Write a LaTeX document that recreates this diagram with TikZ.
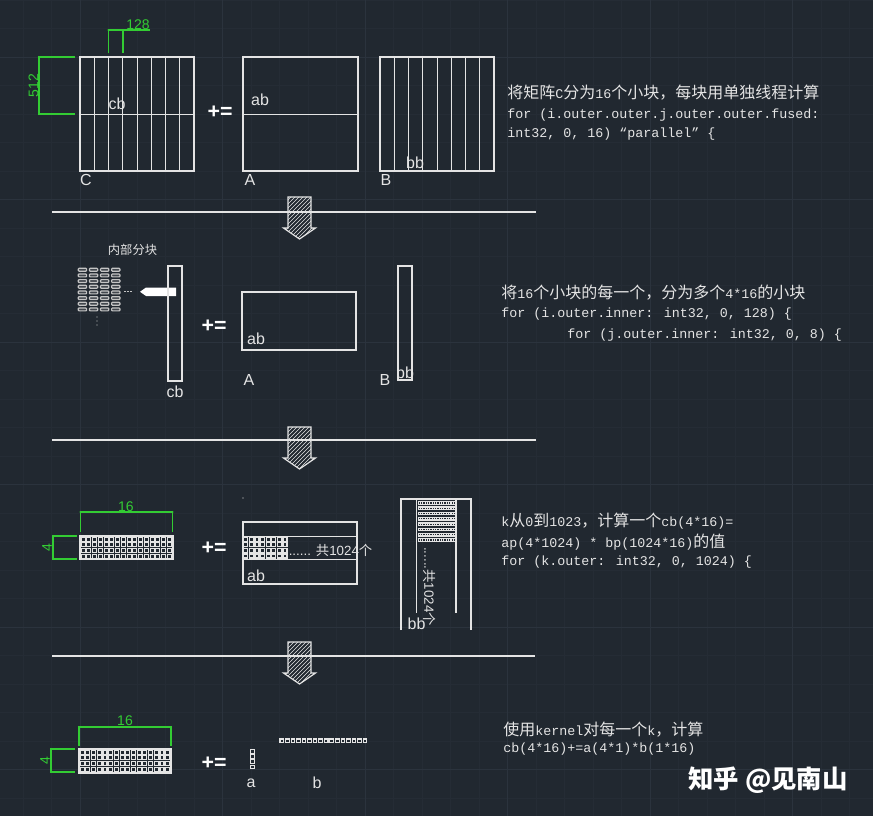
\documentclass[tikz,border=0pt]{standalone}
\usepackage{fontspec}
\setmainfont{Liberation Sans}
\newfontfamily\cjk{Noto Sans CJK SC}
\newfontfamily\codefont{Liberation Mono}
\usepackage{xcolor}
\definecolor{bgDark}{HTML}{212830}
\definecolor{gridMajor}{HTML}{2B333D}
\definecolor{gridMinor}{HTML}{252C35}
\definecolor{lineWhite}{HTML}{E4E4E4}
\definecolor{dimGreen}{HTML}{33CC33}
\definecolor{miniGray}{HTML}{C4C4C4}
\usepackage{tikz}
\usetikzlibrary{
    patterns,
    calc
}
% chinese text inside the code notes
\newcommand{\zh}[1]{{\cjk\fontsize{12}{14}\selectfont#1}}
\newcommand{\zhs}[1]{{\cjk#1}}
\tikzset{
    % matrix outlines
    mat/.style={draw=lineWhite, line width=0.9pt},
    % inner split lines of a matrix
    split/.style={draw=lineWhite, line width=0.7pt},
    % one element of a 4*16 block
    cell/.style={draw=lineWhite, fill=bgDark, line width=0.8pt},
    % small blocks of the inner split
    mini/.style={draw=miniGray, fill=bgDark!80!miniGray, line width=0.9pt, rounded corners=0.6pt},
    % separator between the steps
    sep line/.style={draw=lineWhite, line width=0.8pt},
    % hatched arrow between the steps
    hatch arrow/.style={draw=lineWhite, line width=0.9pt,
        pattern=north east lines, pattern color=lineWhite},
    % green dimension lines
    dim/.style={draw=dimGreen, line width=0.8pt},
    dim label/.style={font=\fontsize{10.5}{12}\selectfont, text=dimGreen, inner sep=0pt},
    % labels of the matrices
    mat label/.style={font=\fontsize{12}{14}\selectfont, text=lineWhite, inner sep=0pt},
    % the += sign
    plus eq/.style={font=\fontsize{16}{18}\selectfont\bfseries, text=white, inner sep=0pt},
    % code notes on the right
    note/.style={anchor=west, inner sep=0pt, text=lineWhite,
        font=\codefont\fontsize{10}{12}\selectfont},
}

\begin{document}
\begin{tikzpicture}[x=0.75pt, y=-0.75pt]
    \fill[bgDark] (0,0) rectangle (873,816);
    \useasboundingbox (0,0) rectangle (873,816);

    % background grid
    \foreach \gx in {23,51.5,...,873} \draw[gridMinor, line width=0.5pt] (\gx,0) -- (\gx,816);
    \foreach \gy in {0,28.5,...,816} \draw[gridMinor, line width=0.5pt] (0,\gy) -- (873,\gy);
    \foreach \gx in {80,222.5,365,507.5,650,792.5} \draw[gridMajor, line width=0.6pt] (\gx,0) -- (\gx,816);
    \foreach \gy in {57,199.5,342,484.5,627,769.5} \draw[gridMajor, line width=0.6pt] (0,\gy) -- (873,\gy);

    % ---- step 1: C split into 16 blocks
    \draw[mat] (80,57) rectangle (194,171);
    \draw[split] (80,114) -- (194,114);
    \foreach \k in {1,...,7} \draw[split] ({80+\k*14.25},57) -- ++(0,114);
    \draw[mat] (243,57) rectangle (358,171);
    \draw[split] (243,114) -- (358,114);
    \draw[mat] (380,57) rectangle (494,171);
    \foreach \k in {1,...,7} \draw[split] ({380+\k*14.25},57) -- ++(0,114);

    \draw[dim] (108.5,53) -- (108.5,30) -- (150,30);
    \draw[dim] (123,53) -- (123,30);
    \fill[dimGreen] (108.5,30) circle (1.2) (123,30) circle (1.2);
    \node[dim label] (dim_128) at (138,25) {128};
    \draw[dim] (75,57) -- (39,57) -- (39,114) -- (75,114);
    \fill[dimGreen] (39,57) circle (1.2) (39,114) circle (1.2);
    \node[dim label, rotate=90] (dim_512) at (33.5,85.5) {512};

    \node[mat label] (cb_1) at (117,104) {cb};
    \node[mat label] (name_c) at (86,180) {C};
    \node[plus eq] (pe_1) at (220,112) {+=};
    \node[mat label] (ab_1) at (260,100) {ab};
    \node[mat label] (name_a1) at (250,180) {A};
    \node[mat label] (bb_1) at (415,163) {bb};
    \node[mat label] (name_b1) at (386,180) {B};

    \node[note] (note_1a) at (507,93) {\zh{将矩阵}C\zh{分为}16\zh{个小块，每块用单独线程计算}};
    \node[note] (note_1b) at (507,115) {for (i.outer.outer.j.outer.outer.fused:};
    \node[note] (note_1c) at (507,134) {int32, 0, 16) “parallel” \{};

    % separators with hatched arrows
    \draw[sep line] (52,212) -- (536,212);
    \draw[sep line] (52,440) -- (536,440);
    \draw[sep line] (52,656) -- (535,656);
    \foreach \t in {197,427,642}
        \draw[hatch arrow] (288,\t) -- (311,\t) -- (311,\t+31) -- (315.5,\t+31)
            -- (299.5,\t+42) -- (283.5,\t+31) -- (288,\t+31) -- cycle;

    % ---- step 2: each block split into 4*16 blocks
    \node[text=lineWhite, inner sep=0pt, font=\cjk\fontsize{9.2}{11}\selectfont] (inner_title) at (132.5,250) {内部分块};
    \foreach \i in {0,...,3}
        \foreach \j in {0,...,7}
            \draw[mini] ({78.3+\i*11.1},{268.3+\j*5.67}) rectangle ++(8.3,2.9);
    \draw[miniGray, line width=0.6pt, dash pattern=on 1.2pt off 1.2pt] (124,291.5) -- (132,291.5);
    \foreach \d in {317,321,325} \fill[miniGray] (97,\d) circle (0.6);
    \fill[white] (176,287.5) -- (146,287.5) -- (140,291.8) -- (146,296) -- (176,296) -- cycle;

    \draw[mat] (168,266) rectangle (182,381);
    \node[mat label] (cb_2) at (175,392) {cb};
    \node[plus eq] (pe_2) at (214,326) {+=};
    \draw[mat] (242,292) rectangle (356,350);
    \node[mat label] (ab_2) at (256,339) {ab};
    \node[mat label] (name_a2) at (249,380) {A};
    \draw[mat] (398,266) rectangle (412,380);
    \node[mat label] (bb_2) at (405,373) {bb};
    \node[mat label] (name_b2) at (385,380) {B};

    \node[note] (note_2a) at (501,293) {\zh{将}16\zh{个小块的每一个，分为多个}4*16\zh{的小块}};
    \node[note] (note_2b) at (501,314) {for (i.outer.inner: int32, 0, 128) \{};
    \node[note] (note_2c) at (567,335) {for (j.outer.inner: int32, 0, 8) \{};

    % ---- step 3: loop over k
    \draw[mat] (80,536) rectangle (173,559);
    \foreach \i in {0,...,15}
        \foreach \j in {0,...,3}
            \draw[cell] ({81.2+\i*5.75},{537.2+\j*5.75}) rectangle ++(4,4);
    \draw[dim] (80.5,532) -- (80.5,512) -- (172.5,512) -- (172.5,532);
    \fill[dimGreen] (80.5,512) circle (1.2) (172.5,512) circle (1.2);
    \node[dim label] (dim_16a) at (126,507) {16};
    \draw[dim] (77,536) -- (53,536) -- (53,559) -- (77,559);
    \fill[dimGreen] (53,536) circle (1.2) (53,559) circle (1.2);
    \node[dim label, rotate=90] (dim_4a) at (47,547.5) {4};

    \node[plus eq] (pe_3) at (214,548) {+=};
    \fill[lineWhite] (243,498) circle (0.6);
    \draw[mat] (243,522) rectangle (357,584);
    \draw[split] (243,536) -- (357,536);
    \draw[split] (243,559) -- (357,559);
    \foreach \i in {0,...,7}
        \foreach \j in {0,...,3}
            \draw[cell] ({243.8+\i*5.6},{537.2+\j*5.6}) rectangle ++(4,4);
    \node[anchor=west, inner sep=0pt, text=lineWhite, font=\fontsize{10}{12}\selectfont] (count_a) at (288.5,550) {...... \zhs{共}1024\zhs{个}};
    \node[mat label] (ab_3) at (256,576) {ab};

    \draw[mat] (401,630) -- (401,499) -- (471,499) -- (471,630);
    \draw[mat] (416.7,499) -- (416.7,613);
    \draw[mat] (456,499) -- (456,613);
    \foreach \j in {0,...,7} {
        \fill[lineWhite] (417.5,{501+\j*5.3}) rectangle ++(38,3.8);
        \foreach \i in {0,...,15}
            \fill[bgDark] ({418.6+\i*2.35},{502.3+\j*5.3}) rectangle ++(1.2,1.2);
    }
    \node[anchor=west, inner sep=0pt, rotate=-90, text=lineWhite, font=\fontsize{10}{12}\selectfont] (count_b) at (429.5,547) {......\zhs{共}1024\zhs{个}};
    \node[mat label] (bb_3) at (416.5,624) {bb};

    \node[note] (note_3a) at (501,521) {k\zh{从}0\zh{到}1023\zh{，计算一个}cb(4*16)=};
    \node[note] (note_3b) at (501,542) {ap(4*1024) * bp(1024*16)\zh{的值}};
    \node[note] (note_3c) at (501,562) {for (k.outer: int32, 0, 1024) \{};

    % ---- step 4: kernel for one k
    \draw[mat] (79,749) rectangle (171,773);
    \foreach \i in {0,...,15}
        \foreach \j in {0,...,3}
            \draw[cell] ({80.2+\i*5.7},{750.2+\j*5.7}) rectangle ++(4,4);
    \draw[dim] (79,746) -- (79,727) -- (171,727) -- (171,746);
    \fill[dimGreen] (79,727) circle (1.2) (171,727) circle (1.2);
    \node[dim label] (dim_16b) at (125,721) {16};
    \draw[dim] (75,749) -- (51,749) -- (51,772) -- (75,772);
    \fill[dimGreen] (51,749) circle (1.2) (51,772) circle (1.2);
    \node[dim label, rotate=90] (dim_4b) at (45,761) {4};

    \node[plus eq] (pe_4) at (214,763) {+=};
    \foreach \j in {0,...,3}
        \draw[cell] (250.6,{749.5+\j*5.2}) rectangle ++(3.6,3.6);
    \foreach \i in {0,...,15}
        \draw[cell] ({280+\i*5.55},739) rectangle ++(3.6,3.6);
    \node[mat label] (name_a) at (251,783) {a};
    \node[mat label] (name_b) at (317,783) {b};

    \node[note] (note_4a) at (503,730) {\zh{使用}kernel\zh{对每一个}k\zh{，计算}};
    \node[note] (note_4b) at (503,749) {cb(4*16)+=a(4*1)*b(1*16)};

    \node[text=white, inner sep=0pt, font=\cjk\bfseries\fontsize{19}{22}\selectfont] (watermark) at (768,780) {知乎 @见南山};
\end{tikzpicture}
\end{document}
